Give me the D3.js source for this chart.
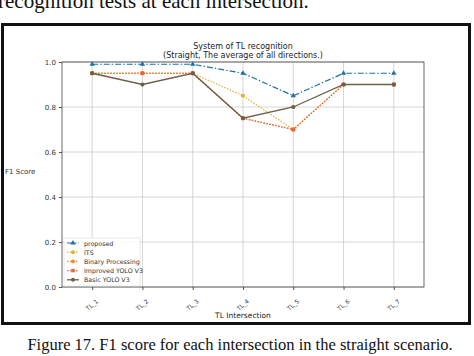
<!DOCTYPE html>
<html><head><meta charset="utf-8">
<script src="https://cdn.jsdelivr.net/npm/d3@7"></script>
<style>body{margin:0;background:#fff}svg{display:block}</style>
</head><body>
<script>
const categories = ["TL_1","TL_2","TL_3","TL_4","TL_5","TL_6","TL_7"];
const proposed = [0.99,0.99,0.99,0.95,0.85,0.95,0.95];
const its = [0.95,0.95,0.95,0.85,0.70,0.90,0.90];
const binary = [0.95,0.95,0.95,0.75,0.70,0.90,0.90];
const improved = [0.95,0.95,0.95,0.75,0.70,0.90,0.90];
const basic = [0.95,0.90,0.95,0.75,0.80,0.90,0.90];
const yTicks = [0.0,0.2,0.4,0.6,0.8,1.0];
const seriesNames = ["proposed","ITS","Binary Processing","Improved YOLO V3","Basic YOLO V3"];

const W=474,H=356;
const svg=d3.select("body").append("svg").attr("width",W).attr("height",H);
const m={l:62,r:424,t:62,b:287};
const x=d3.scalePoint().domain(categories).range([m.l,m.r]).padding(0.6);
const y=d3.scaleLinear().domain([0,1]).range([m.b,m.t]);

// top cropped caption
svg.append("text").attr("x",-2).attr("y",8).attr("font-family","Liberation Serif").attr("font-size",21).attr("fill","#111").text("recognition tests at each intersection.");
// frame
svg.append("rect").attr("x",2.5).attr("y",24.5).attr("width",467).attr("height",299).attr("fill","#fff").attr("stroke","#111").attr("stroke-width",3);

const g=svg.append("g");
// grid
g.selectAll(".gx").data(categories).join("line").attr("x1",d=>x(d)).attr("x2",d=>x(d)).attr("y1",m.t).attr("y2",m.b).attr("stroke","#ccc").attr("stroke-width",0.8);
g.selectAll(".gy").data(yTicks).join("line").attr("x1",m.l).attr("x2",m.r).attr("y1",d=>y(d)).attr("y2",d=>y(d)).attr("stroke","#ccc").attr("stroke-width",0.8);

// axes
const xa=g.append("g").attr("transform",`translate(0,${m.b})`).call(d3.axisBottom(x).tickSize(3).tickSizeOuter(0));
xa.select(".domain").remove();
xa.selectAll("line").attr("stroke","#555");
xa.selectAll("text").attr("font-family","DejaVu Sans").attr("font-size",6).attr("fill","#333")
  .attr("text-anchor","end").attr("y",0).attr("dy",0).attr("transform","translate(6,15) rotate(-40)");
const ya=g.append("g").attr("transform",`translate(${m.l},0)`).call(d3.axisLeft(y).tickValues(yTicks).tickFormat(d3.format(".1f")).tickSize(3).tickSizeOuter(0));
ya.select(".domain").remove();
ya.selectAll("line").attr("stroke","#555");
ya.selectAll("text").attr("font-family","DejaVu Sans").attr("font-size",7).attr("fill","#333");
g.append("rect").attr("x",m.l).attr("y",m.t).attr("width",m.r-m.l).attr("height",m.b-m.t).attr("fill","none").attr("stroke","#444").attr("stroke-width",0.8);

// titles
svg.append("text").attr("x",243).attr("y",49).attr("text-anchor","middle").attr("font-family","DejaVu Sans").attr("font-size",8).attr("fill","#222").text("System of TL recognition");
svg.append("text").attr("x",243).attr("y",58).attr("text-anchor","middle").attr("font-family","DejaVu Sans").attr("font-size",8).attr("fill","#222").text("(Straight, The average of all directions.)");
svg.append("text").attr("x",243).attr("y",318).attr("text-anchor","middle").attr("font-family","DejaVu Sans").attr("font-size",7.5).attr("fill","#222").text("TL Intersection");
svg.append("text").attr("x",5).attr("y",174).attr("font-family","DejaVu Sans").attr("font-size",7).attr("fill","#333").text("F1 Score");

const series=[
 {name:seriesNames[0],vals:proposed,color:"#1f6fa0",dash:"6,2,1.5,2",width:1.2,marker:"triangle"},
 {name:seriesNames[1],vals:its,color:"#e0b040",dash:"1.5,1.5",width:1.2,marker:"circle"},
 {name:seriesNames[2],vals:binary,color:"#f08a3c",dash:"1.5,1.5",width:1.2,marker:"circle"},
 {name:seriesNames[3],vals:improved,color:"#e8663c",dash:"1.5,1.5",width:1.2,marker:"square"},
 {name:seriesNames[4],vals:basic,color:"#6b6048",dash:null,width:1.3,marker:"circle"}
];
const line=d3.line().x((d,i)=>x(categories[i])).y(d=>y(d));
const sym={triangle:d3.symbolTriangle,circle:d3.symbolCircle,square:d3.symbolSquare};
series.forEach(s=>{
  g.append("path").datum(s.vals).attr("d",line).attr("fill","none").attr("stroke",s.color).attr("stroke-width",s.width).attr("stroke-dasharray",s.dash);
  g.selectAll(null).data(s.vals).join("path").attr("d",d3.symbol().type(sym[s.marker]).size(s.marker==="triangle"?12:14))
   .attr("transform",(d,i)=>`translate(${x(categories[i])},${y(d)})`).attr("fill",s.color);
});

// legend
const lg=svg.append("g").attr("transform","translate(64,238)");
lg.append("rect").attr("width",76).attr("height",48).attr("fill","#fff").attr("fill-opacity",0.85).attr("stroke","#ddd").attr("stroke-width",0.6);
series.forEach((s,i)=>{
  const yy=5+i*9.2;
  lg.append("line").attr("x1",3).attr("x2",15).attr("y1",yy).attr("y2",yy).attr("stroke",s.color).attr("stroke-width",s.width).attr("stroke-dasharray",s.dash);
  lg.append("path").attr("d",d3.symbol().type(sym[s.marker]).size(12)).attr("transform",`translate(9,${yy})`).attr("fill",s.color);
  lg.append("text").attr("x",20).attr("y",yy+2.5).attr("font-family","DejaVu Sans").attr("font-size",6.3).attr("fill","#333").text(s.name);
});

// bottom caption
svg.append("text").attr("x",240).attr("y",350).attr("text-anchor","middle").attr("font-family","Liberation Serif").attr("font-size",16.5).attr("fill","#111").text("Figure 17. F1 score for each intersection in the straight scenario.");
</script>
</body></html>
